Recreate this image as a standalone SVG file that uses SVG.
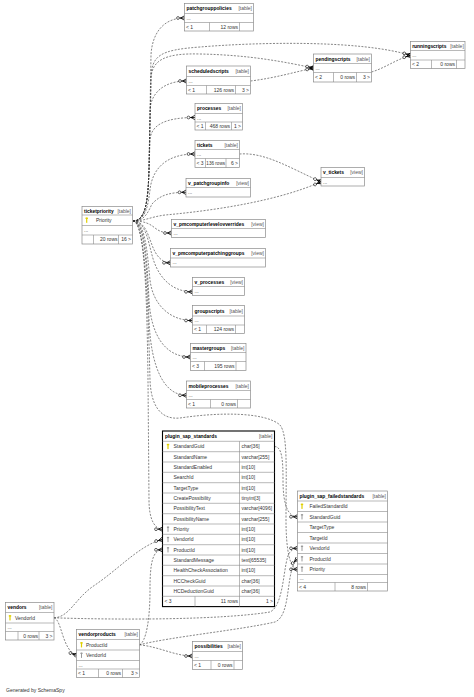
<svg xmlns="http://www.w3.org/2000/svg" xmlns:xlink="http://www.w3.org/1999/xlink" width="474" height="697" viewBox="0 0 474 697">
<style>
.b{fill:#fff;stroke:#8a8a8a;stroke-width:.7}
.bb{fill:#fff;stroke:#000;stroke-width:1.1}
.g{fill:none;stroke:#8a8a8a;stroke-width:.6}
text{font-family:"Liberation Sans",Arial,sans-serif;font-size:5px;fill:#333}
.h{font-weight:bold;font-size:4.9px;fill:#000}
.k{fill:#555;text-anchor:end}
.r{text-anchor:end}
.s{font-size:4.6px}
.c path{fill:none;stroke:#333;stroke-width:.6;stroke-dasharray:2 1.4;marker-end:url(#m)}
</style>
<defs>
<marker id="m" markerWidth="10" markerHeight="6" refX="9" refY="3" orient="auto" markerUnits="userSpaceOnUse" viewBox="0 0 10 6">
<circle cx="2.5" cy="3" r="1.4" fill="#fff" stroke="#000" stroke-width="0.6"/>
<path d="M4,3 L9,3 M5,3 L9,0.8 M5,3 L9,5.2" stroke="#000" stroke-width="0.8" fill="none"/>
</marker>
<g id="pk"><rect x="-0.6" y="-2.6" width="1.2" height="5.2" fill="#e0d000"/><rect x="-1.2" y="-2.6" width="2.4" height="1.4" fill="#e0d000"/></g>
<g id="fk"><rect x="-0.5" y="-2.6" width="1" height="5.2" fill="#9a9a9a"/><rect x="-1.1" y="-2.6" width="2.2" height="1.3" fill="#9a9a9a"/></g>
</defs>
<rect width="474" height="697" fill="#fff"/>

<g class="c" id="connectors">
<path d="M133,221 C146,221 148,200 149,170 L151,55 C152,35 162,18 184.5,18"/>
<path d="M133,221 C146,221 148,200 149,170 L151,80 C151,55 160,50 200,47 C260,42 360,40 410.5,55.3"/>
<path d="M133,221 C146,221 148,200 149,170 L151,80 C151,60 165,53 200,54 C250,55 285,62 313.5,68"/>
<path d="M133,221 C146,221 148,200 149,170 L150,110 C151,92 165,81 186.5,81"/>
<path d="M250.5,81 C275,78 295,72 313.5,68"/>
<path d="M371.5,72 C385,68 395,60 410.5,55.3"/>
<path d="M133,221 C146,221 148,200 149,170 L150,140 C151,125 165,117.5 195,117.5"/>
<path d="M133,221 C146,221 148,205 150,190 C152,170 165,154 195,154"/>
<path d="M239.5,154 C265,152 290,168 321,181.8"/>
<path d="M133,221 C145,221 150,217 165,215 C220,210 280,200 321,181.8"/>
<path d="M133,221 C145,221 148,212 152,204 C160,195 170,192.3 186,192.3"/>
<path d="M133,221 C145,221 150,224 155,228 C160,232 165,233 171.5,233"/>
<path d="M133,221 C145,221 148,235 152,245 C156,256 162,262.8 170.5,262.8"/>
<path d="M133,221 C145,221 148,240 152,255 C157,275 170,291.8 192.5,291.8"/>
<path d="M133,221 C145,221 147,250 150,280 C153,305 170,320.5 192.5,320.5"/>
<path d="M133,221 C145,221 147,260 149,300 C151,335 165,357 190.5,357"/>
<path d="M133,221 C145,221 147,270 149,320 C151,370 165,395.3 186.5,395.3"/>
<path d="M133,221 C145,221 147,300 148,380 L149,500 C149,520 155,529.2 162.5,529.2"/>
<path d="M133,221 C145,221 148,300 150,380 C151,405 160,420 180,418 C220,412 265,412 280,425 C288,435 286,470 286,520 C286,550 290,569.3 297.5,569.3"/>
<path d="M274.5,446.5 C282,446.5 283,460 283,480 C283,505 288,516.8 297.5,516.8"/>
<path d="M54,617.8 C70,617 75,598 95,585 C120,568 140,545 162.5,539.5"/>
<path d="M54,617.8 C120,620 220,620 270,612 C285,605 283,560 290,552 C293,549 295,548.3 297.5,548.3"/>
<path d="M54,617.8 C62,620 62,650 76.5,655.3"/>
<path d="M139.5,644.8 C146,642 150,620 150,590 C150,565 152,549.8 162.5,549.8"/>
<path d="M139.5,644.8 C170,637 240,630 275,622 C292,615 285,570 297.5,558.8"/>
<path d="M139.5,644.8 C160,647 175,656 192.5,656"/>
</g>

<g id="patchgrouppolicies">
<rect class="b" x="184.5" y="3.5" width="69" height="27.5"/>
<path class="g" d="M184.5,13.5H253.5M184.5,22.5H253.5M209.5,22.5V31M239.5,22.5V31"/>
<text class="h" x="186.5" y="10.3">patchgrouppolicies</text><text class="k" x="252" y="10.3">[table]</text>
<text x="186.5" y="19.8">...</text>
<text x="186" y="28.6">&lt; 1</text><text class="r" x="238" y="28.6">12 rows</text>
</g>

<g id="scheduledscripts">
<rect class="b" x="186.5" y="66" width="64" height="28"/>
<path class="g" d="M186.5,76.5H250.5M186.5,85.5H250.5M206.5,85.5V94M235.5,85.5V94"/>
<text class="h" x="188.5" y="73">scheduledscripts</text><text class="k" x="249" y="73">[table]</text>
<text x="188.5" y="82.8">...</text>
<text x="188" y="91.6">&lt; 1</text><text class="r" x="234" y="91.6">126 rows</text><text class="r" x="249" y="91.6">3 &gt;</text>
</g>

<g id="processes">
<rect class="b" x="195" y="103.5" width="47.5" height="26.5"/>
<path class="g" d="M195,113.5H242.5M195,122H242.5M205.5,122V130M231.5,122V130"/>
<text class="h" x="197" y="110.3">processes</text><text class="k" x="241" y="110.3">[table]</text>
<text x="197" y="119.5">...</text>
<text x="196.5" y="127.8">&lt; 1</text><text class="r" x="230" y="127.8">468 rows</text><text class="r" x="241" y="127.8">1 &gt;</text>
</g>

<g id="tickets">
<rect class="b" x="195" y="140.5" width="44.5" height="27"/>
<path class="g" d="M195,149.5H239.5M195,158.5H239.5M205.5,158.5V167.5M226,158.5V167.5"/>
<text class="h" x="197" y="146.8">tickets</text><text class="k" x="238" y="146.8">[table]</text>
<text x="197" y="155.8">...</text>
<text x="196.5" y="164.8">&lt; 3</text><text class="r s" x="225" y="164.8">136 rows</text><text class="r" x="238" y="164.8">6 &gt;</text>
</g>

<g id="v_patchgroupinfo">
<rect class="b" x="186" y="178.5" width="64.5" height="18.5"/>
<path class="g" d="M186,187.5H250.5"/>
<text class="h" x="188" y="184.8">v_patchgroupinfo</text><text class="k" x="249" y="184.8">[view]</text>
<text x="188" y="194">...</text>
</g>

<g id="ticketpriority">
<rect class="b" x="82" y="206.5" width="50.5" height="37.5"/>
<path class="g" d="M82,215H132.5M82,225.5H132.5M82,235H132.5M93.5,235V244M118.5,235V244"/>
<text class="h" x="84" y="212.6">ticketpriority</text><text class="k" x="131" y="212.6">[table]</text>
<use xlink:href="#pk" x="86.7" y="220.2"/>
<text x="96" y="222">Priority</text>
<text x="84" y="231.5">...</text>
<text class="r" x="117.5" y="241.3">20 rows</text><text class="r" x="131" y="241.3">16 &gt;</text>
</g>

<g id="v_pmcomputerlevelovverrides">
<rect class="b" x="171.5" y="219.5" width="94" height="18"/>
<path class="g" d="M171.5,228.5H265.5"/>
<text class="h" x="173.5" y="225.8">v_pmcomputerlevelovverrides</text><text class="k" x="264" y="225.8">[view]</text>
<text x="173.5" y="234.8">...</text>
</g>

<g id="v_pmcomputerpatchinggroups">
<rect class="b" x="170.5" y="248.5" width="95" height="18.5"/>
<path class="g" d="M170.5,258H265.5"/>
<text class="h" x="172.5" y="255">v_pmcomputerpatchinggroups</text><text class="k" x="264" y="255">[view]</text>
<text x="172.5" y="264.3">...</text>
</g>

<g id="v_processes">
<rect class="b" x="192.5" y="277.5" width="52" height="18"/>
<path class="g" d="M192.5,286.5H244.5"/>
<text class="h" x="194.5" y="283.8">v_processes</text><text class="k" x="243" y="283.8">[view]</text>
<text x="194.5" y="292.8">...</text>
</g>

<g id="groupscripts">
<rect class="b" x="192.5" y="305.5" width="52" height="28"/>
<path class="g" d="M192.5,316H244.5M192.5,325H244.5M206.5,325V333.5M235.5,325V333.5"/>
<text class="h" x="194.5" y="312.6">groupscripts</text><text class="k" x="243" y="312.6">[table]</text>
<text x="194.5" y="322.3">...</text>
<text x="194" y="331">&lt; 1</text><text class="r" x="234" y="331">124 rows</text>
</g>

<g id="mastergroups">
<rect class="b" x="190.5" y="343.5" width="55.5" height="27"/>
<path class="g" d="M190.5,352.5H246M190.5,361.5H246M204.5,361.5V370.5M236,361.5V370.5"/>
<text class="h" x="192.5" y="349.8">mastergroups</text><text class="k" x="244.5" y="349.8">[table]</text>
<text x="192.5" y="358.8">...</text>
<text x="192" y="367.8">&lt; 3</text><text class="r" x="234.5" y="367.8">195 rows</text>
</g>

<g id="mobileprocesses">
<rect class="b" x="186.5" y="381" width="64" height="27"/>
<path class="g" d="M186.5,390.5H250.5M186.5,399.5H250.5M210.5,399.5V408M237.5,399.5V408"/>
<text class="h" x="188.5" y="387.5">mobileprocesses</text><text class="k" x="249" y="387.5">[table]</text>
<text x="188.5" y="396.8">...</text>
<text x="188" y="405.5">&lt; 1</text><text class="r" x="236" y="405.5">0 rows</text>
</g>

<g id="plugin_sap_standards">
<rect class="bb" x="162.5" y="431" width="112" height="175.6"/>
<path class="g" d="M162.5,441.3H274.5M162.5,451.7H274.5M162.5,462H274.5M162.5,472.3H274.5M162.5,482.7H274.5M162.5,493H274.5M162.5,503.3H274.5M162.5,513.7H274.5M162.5,524H274.5M162.5,534.3H274.5M162.5,544.7H274.5M162.5,555H274.5M162.5,565.3H274.5M162.5,575.7H274.5M162.5,586H274.5M162.5,596.3H274.5M239.5,441.3V606.6M195,596.3V606.6"/>
<text class="h" x="165" y="438">plugin_sap_standards</text><text class="k" x="272.5" y="438">[table]</text>
<use xlink:href="#pk" x="168" y="446.5"/>
<use xlink:href="#fk" x="168" y="529.2"/>
<use xlink:href="#fk" x="168" y="539.5"/>
<use xlink:href="#fk" x="168" y="549.8"/>
<text x="173.5" y="448.3">StandardGuid</text><text x="241.5" y="448.3">char[36]</text>
<text x="173.5" y="458.7">StandardName</text><text x="241.5" y="458.7">varchar[255]</text>
<text x="173.5" y="469">StandardEnabled</text><text x="241.5" y="469">int[10]</text>
<text x="173.5" y="479.3">SearchId</text><text x="241.5" y="479.3">int[10]</text>
<text x="173.5" y="489.7">TargetType</text><text x="241.5" y="489.7">int[10]</text>
<text x="173.5" y="500">CreatePossibility</text><text x="241.5" y="500">tinyint[3]</text>
<text x="173.5" y="510.3">PossibilityText</text><text x="241.5" y="510.3">varchar[4096]</text>
<text x="173.5" y="520.7">PossibilityName</text><text x="241.5" y="520.7">varchar[255]</text>
<text x="173.5" y="531">Priority</text><text x="241.5" y="531">int[10]</text>
<text x="173.5" y="541.3">VendorId</text><text x="241.5" y="541.3">int[10]</text>
<text x="173.5" y="551.7">ProductId</text><text x="241.5" y="551.7">int[10]</text>
<text x="173.5" y="562">StandardMessage</text><text x="241.5" y="562">text[65535]</text>
<text x="173.5" y="572.3">HealthCheckAssociation</text><text x="241.5" y="572.3">int[10]</text>
<text x="173.5" y="582.7">HCCheckGuid</text><text x="241.5" y="582.7">char[36]</text>
<text x="173.5" y="593">HCDeductionGuid</text><text x="241.5" y="593">char[36]</text>
<text x="164.5" y="603.3">&lt; 3</text><text class="r" x="238" y="603.3">11 rows</text><text class="r" x="273" y="603.3">1 &gt;</text>
</g>

<g id="plugin_sap_failedstandards">
<rect class="b" x="297.5" y="491" width="90" height="100"/>
<path class="g" d="M297.5,501H387.5M297.5,511.5H387.5M297.5,522H387.5M297.5,532.5H387.5M297.5,543H387.5M297.5,553.5H387.5M297.5,564H387.5M297.5,574.5H387.5M297.5,582.5H387.5M335,582.5V591M367.5,582.5V591"/>
<text class="h" x="299.5" y="497.8">plugin_sap_failedstandards</text><text class="k" x="386" y="497.8">[table]</text>
<use xlink:href="#pk" x="302" y="506.3"/>
<use xlink:href="#fk" x="302" y="516.8"/>
<use xlink:href="#fk" x="302" y="548.3"/>
<use xlink:href="#fk" x="302" y="558.8"/>
<use xlink:href="#fk" x="302" y="569.3"/>
<text x="309.5" y="508">FailedStandardId</text>
<text x="309.5" y="518.5">StandardGuid</text>
<text x="309.5" y="529">TargetType</text>
<text x="309.5" y="539.5">TargetId</text>
<text x="309.5" y="550">VendorId</text>
<text x="309.5" y="560.5">ProductId</text>
<text x="309.5" y="571">Priority</text>
<text x="299.5" y="580.3">...</text>
<text x="299" y="588.6">&lt; 4</text><text class="r" x="366" y="588.6">8 rows</text>
</g>

<g id="runningscripts">
<rect class="b" x="410.5" y="41.5" width="54.5" height="27"/>
<path class="g" d="M410.5,50.5H465M410.5,60H465M431.5,60V68.5M456.5,60V68.5"/>
<text class="h" x="412.2" y="47.8">runningscripts</text><text class="k" x="463.8" y="47.8">[table]</text>
<text x="412.2" y="57">...</text>
<text x="412" y="66">&lt; 2</text><text class="r" x="455" y="66">0 rows</text>
</g>

<g id="pendingscripts">
<rect class="b" x="313.5" y="54" width="58" height="28"/>
<path class="g" d="M313.5,63.5H371.5M313.5,72.5H371.5M333.5,72.5V82M356.5,72.5V82"/>
<text class="h" x="315.5" y="60.5">pendingscripts</text><text class="k" x="370" y="60.5">[table]</text>
<text x="315.5" y="69.8">...</text>
<text x="315" y="79">&lt; 2</text><text class="r" x="355" y="79">0 rows</text><text class="r" x="370" y="79">3 &gt;</text>
</g>

<g id="v_tickets">
<rect class="b" x="321" y="167.5" width="43.5" height="18.5"/>
<path class="g" d="M321,177.5H364.5"/>
<text class="h" x="323" y="174.3">v_tickets</text><text class="k" x="363" y="174.3">[view]</text>
<text x="323" y="183.5">...</text>
</g>

<g id="vendors">
<rect class="b" x="5.5" y="602.5" width="48.5" height="37.5"/>
<path class="g" d="M5.5,612.5H54M5.5,623H54M5.5,631.5H54M18,631.5V640M39,631.5V640"/>
<text class="h" x="7.5" y="609.3">vendors</text><text class="k" x="52.5" y="609.3">[table]</text>
<use xlink:href="#pk" x="10" y="617.8"/>
<text x="15" y="619.6">VendorId</text>
<text x="7.5" y="629.3">...</text>
<text class="r" x="38" y="637.6">0 rows</text><text class="r" x="52.5" y="637.6">3 &gt;</text>
</g>

<g id="vendorproducts">
<rect class="b" x="76.5" y="629.5" width="63" height="48"/>
<path class="g" d="M76.5,639.5H139.5M76.5,650H139.5M76.5,660.5H139.5M76.5,669H139.5M98.5,669V677.5M122.5,669V677.5"/>
<text class="h" x="78.5" y="636.3">vendorproducts</text><text class="k" x="138" y="636.3">[table]</text>
<use xlink:href="#pk" x="81.5" y="644.8"/>
<use xlink:href="#fk" x="81.5" y="655.3"/>
<text x="86" y="646.6">ProductId</text>
<text x="86" y="657.1">VendorId</text>
<text x="78.5" y="666.5">...</text>
<text x="78" y="675">&lt; 1</text><text class="r" x="121" y="675">0 rows</text><text class="r" x="138" y="675">3 &gt;</text>
</g>

<g id="possibilities">
<rect class="b" x="192.5" y="641.5" width="50" height="28"/>
<path class="g" d="M192.5,651.5H242.5M192.5,660.5H242.5M211,660.5V669.5M234,660.5V669.5"/>
<text class="h" x="194.5" y="648.3">possibilities</text><text class="k" x="241" y="648.3">[table]</text>
<text x="194.5" y="657.8">...</text>
<text x="194" y="666.8">&lt; 1</text><text class="r" x="232.5" y="666.8">0 rows</text>
</g>

<text x="6" y="692" fill="#444">Generated by SchemaSpy</text>
</svg>
